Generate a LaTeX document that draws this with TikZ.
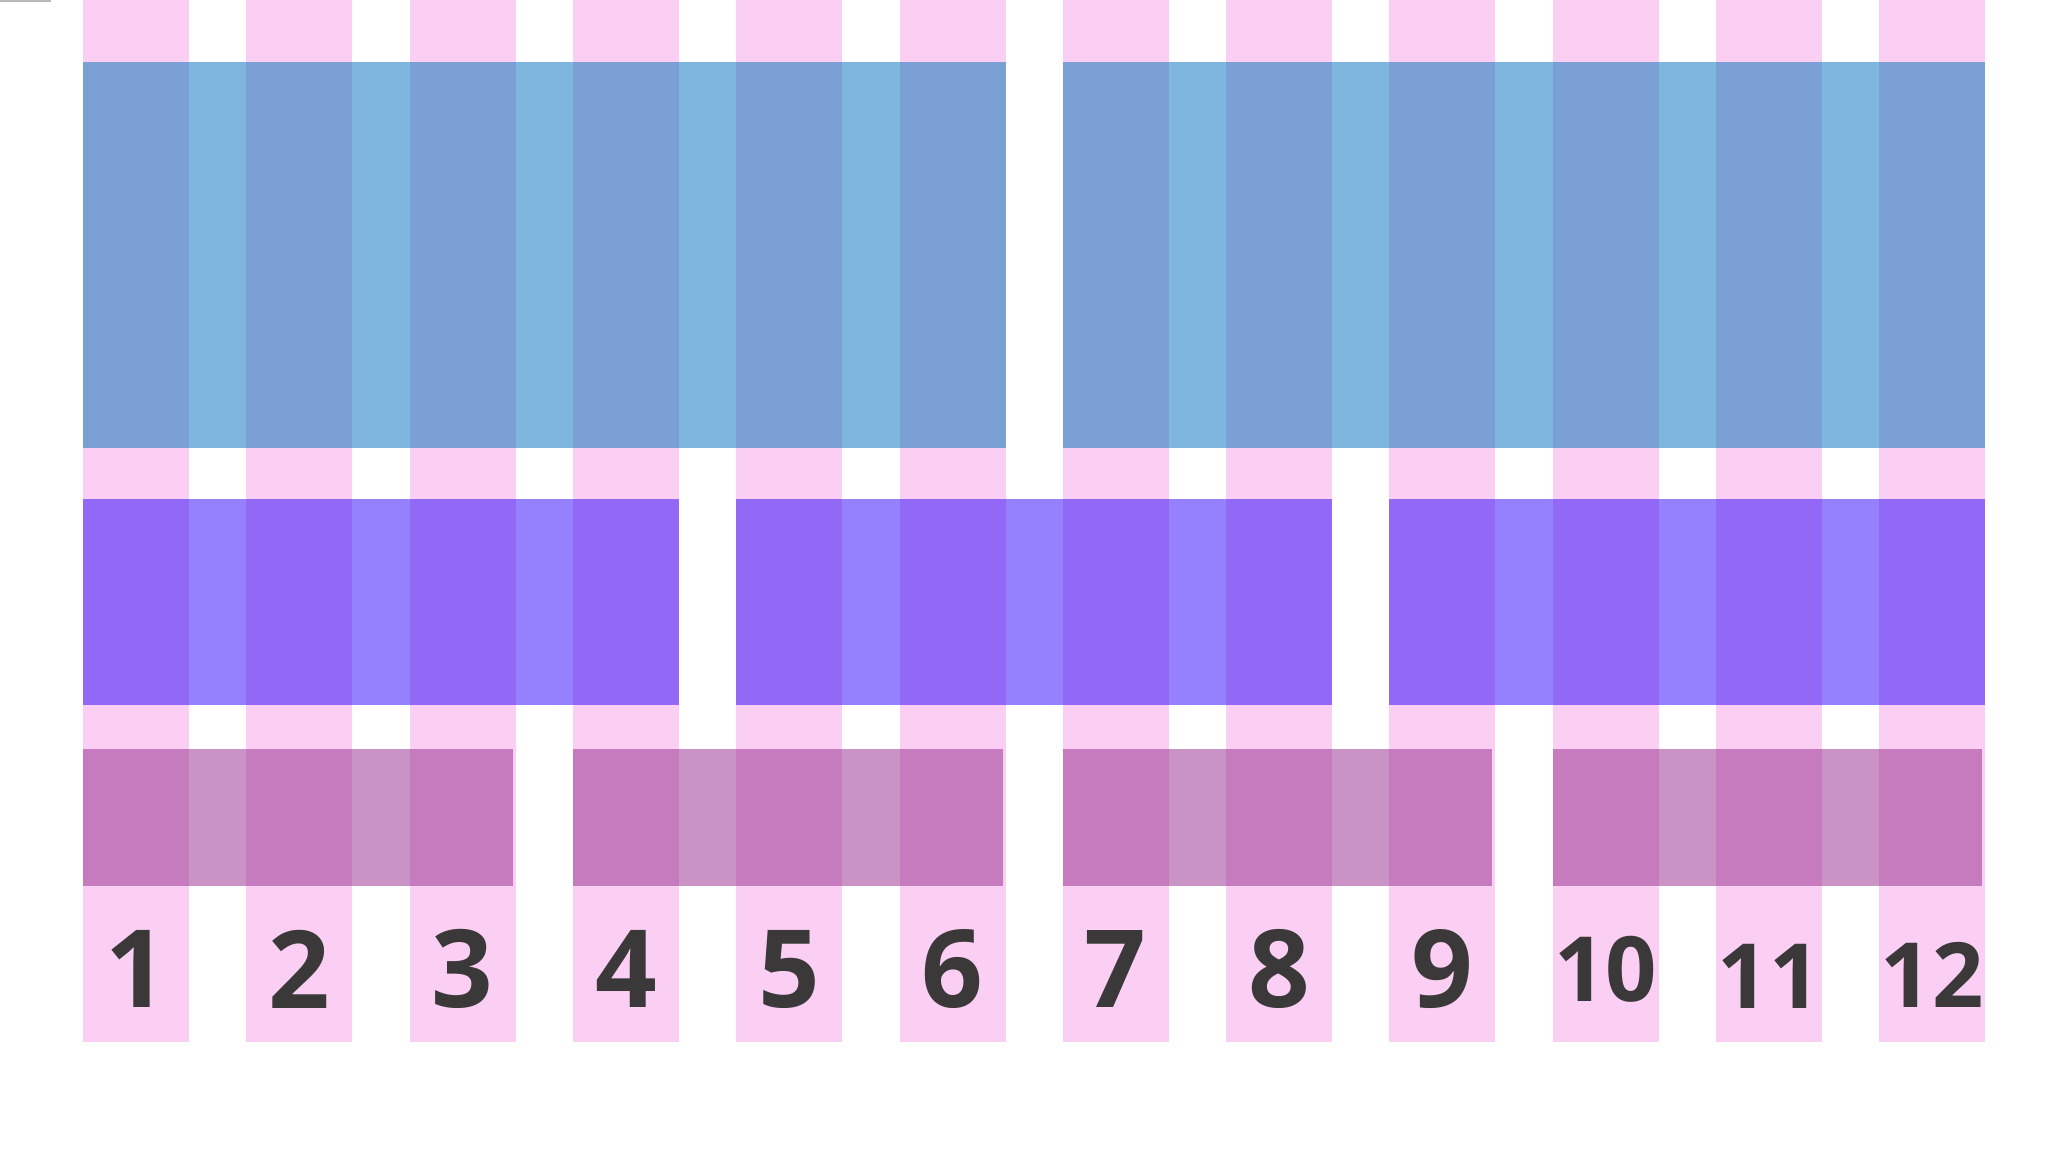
\documentclass[tikz,border=0pt]{standalone}
\usepackage{fontspec}
\newfontfamily\numfont{Open Sans}
\definecolor{pinkcol}{HTML}{FBCFF3}
\definecolor{blueP}{HTML}{7BA0D6}
\definecolor{blueW}{HTML}{7EB6E0}
\definecolor{purpP}{HTML}{9169F6}
\definecolor{purpW}{HTML}{9580FE}
\definecolor{magP}{HTML}{C77BBF}
\definecolor{magW}{HTML}{C993C6}
\definecolor{numcol}{HTML}{3A3838}
\tikzset{
  numlabel/.style={inner sep=0pt, text=numcol, font=\numfont\bfseries\fontsize{108}{108}\selectfont},
  numlabelsmall/.style={numlabel, font=\numfont\bfseries\fontsize{90}{90}\selectfont}
}
\begin{document}
\begin{tikzpicture}[x=1pt,y=-1pt]
\useasboundingbox (0,0) rectangle (2048,1152);
\fill[white] (0,0) rectangle (2048,1152);
\draw[gray!55, line width=2pt] (0,1) -- (51,1);
% pink columns
\foreach \i in {0,...,11} {
  \fill[pinkcol] ({83+\i*163.3},0) rectangle ({189+\i*163.3},1042);
}
% blue band
\foreach \a/\b in {0/5,6/11} {
  \fill[blueW] ({83+\a*163.3},62) rectangle ({189+\b*163.3},448);
  \foreach \i in {\a,...,\b} {
    \fill[blueP] ({83+\i*163.3},62) rectangle ({189+\i*163.3},448);
  }
}
% purple band
\foreach \a/\b in {0/3,4/7,8/11} {
  \fill[purpW] ({83+\a*163.3},499) rectangle ({189+\b*163.3},705);
  \foreach \i in {\a,...,\b} {
    \fill[purpP] ({83+\i*163.3},499) rectangle ({189+\i*163.3},705);
  }
}
% magenta band (slightly narrower than the last column of each group)
\foreach \a/\b in {0/2,3/5,6/8,9/11} {
  \fill[magW] ({83+\a*163.3},749) rectangle ({186+\b*163.3},886);
  \foreach \i in {\a,...,\b} {
    \fill[magP] ({83+\i*163.3},749) rectangle ({189+\i*163.3},886);
  }
  \fill[pinkcol] ({186+\b*163.3},749) rectangle ({189+\b*163.3},886);
}
% column numbers
\foreach \i in {1,...,9} {
  \node[numlabel] (n\i) at ({136+(\i-1)*163.3},969) {\i};
}
\node[numlabelsmall] (n10) at ({136+9*163.3},969) {10};
\node[numlabelsmall] (n11) at ({136+10*163.3},976) {11};
\node[numlabelsmall] (n12) at ({136+11*163.3},975) {12};
\end{tikzpicture}
\end{document}
